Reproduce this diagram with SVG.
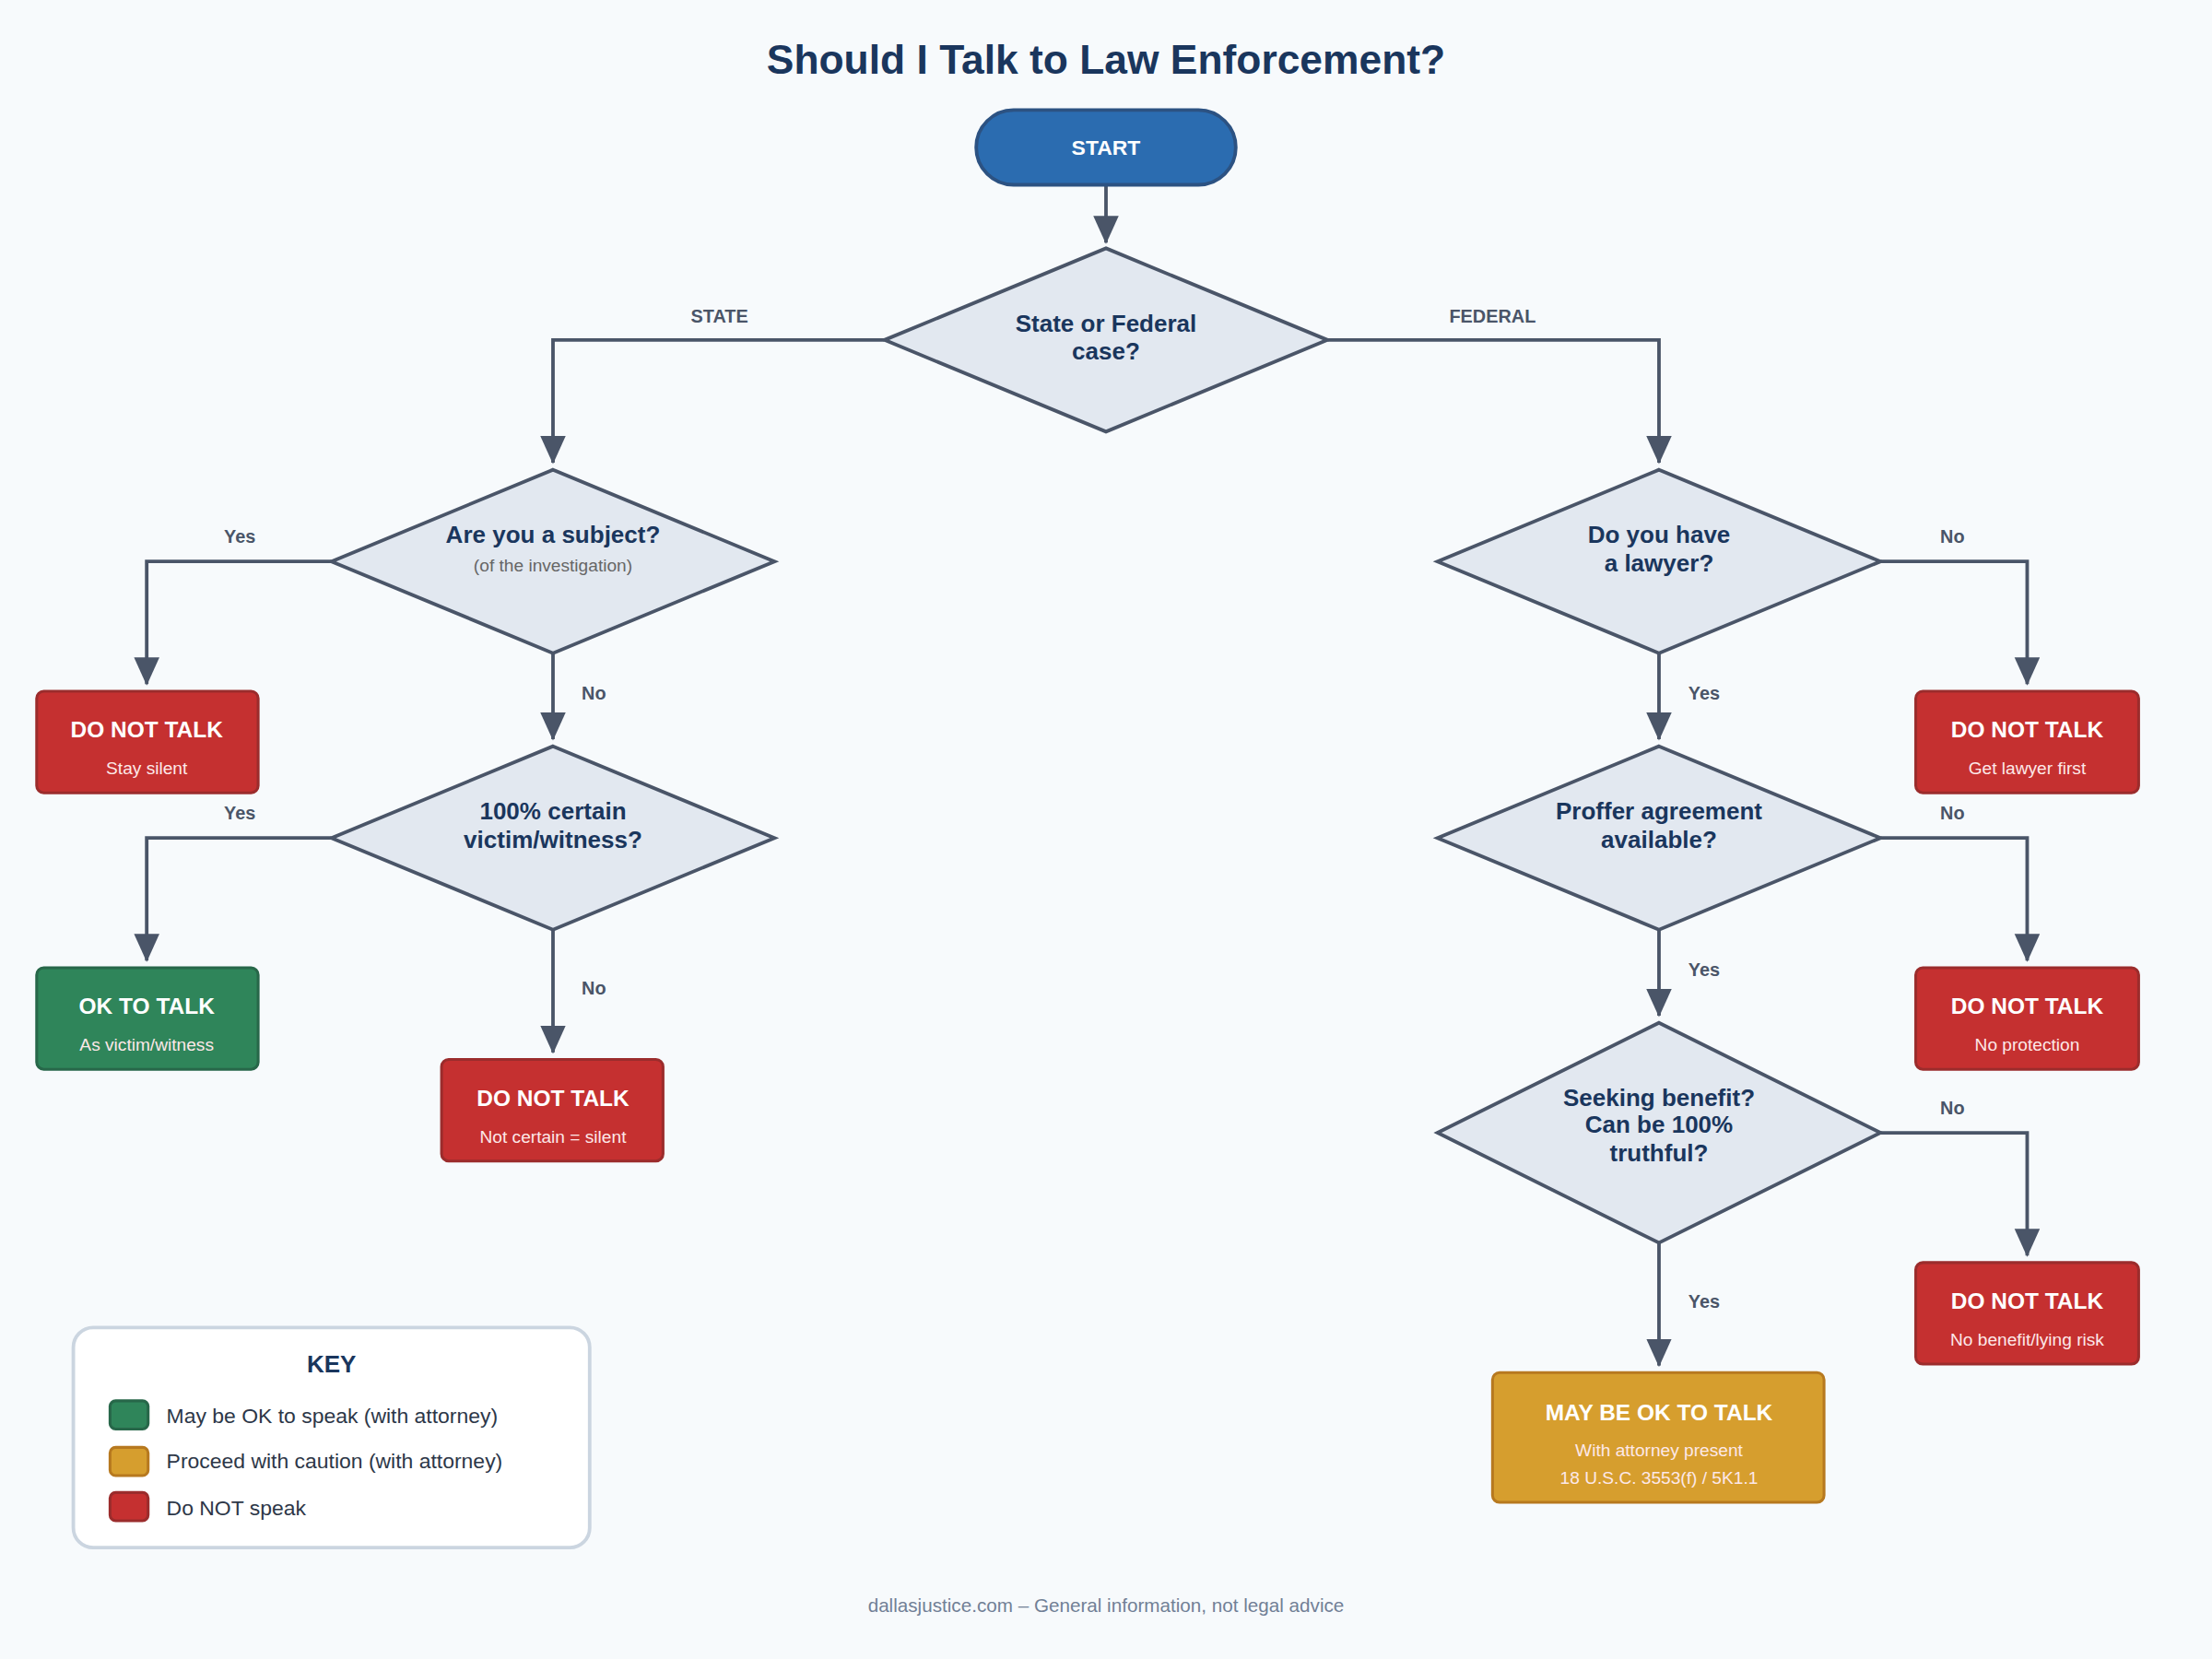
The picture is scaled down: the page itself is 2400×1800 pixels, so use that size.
<svg xmlns="http://www.w3.org/2000/svg" width="2400" height="1800" viewBox="0 0 2400 1800">
<defs>
<marker id="ah" markerUnits="userSpaceOnUse" markerWidth="20" markerHeight="26" refX="19" refY="9" orient="auto"><path d="M0,0 L20,9 L0,18 Z" fill="#4a5568"/></marker>
<style>
text{font-family:"Liberation Sans",Arial,sans-serif;text-anchor:middle}
.d{fill:#e2e8f0;stroke:#4a5568;stroke-width:2.5}
.dt{font-size:17px;font-weight:bold;fill:#1a365d}
.c{fill:none;stroke:#4a5568;stroke-width:2.5;marker-end:url(#ah)}
.lb{font-size:13px;font-weight:bold;fill:#4a5568}
.r{fill:#c53030;stroke:#9b2c2c;stroke-width:2}
.g{fill:#2f855a;stroke:#276749;stroke-width:2}
.o{fill:#d69e2e;stroke:#b7791f;stroke-width:2}
.bt{font-size:16px;font-weight:bold;fill:#fff}
.bs{font-size:12.5px;fill:#fde8e8}
.kt{font-size:15px;fill:#2d3748;text-anchor:start}
</style>
</defs>
<rect width="2400" height="1800" fill="#f7fafc"/>
<g transform="scale(1.5306)">
<text x="784" y="52" font-size="29" font-weight="bold" fill="#1a365d">Should I Talk to Law Enforcement?</text>
<g id="connectors">
<path class="c" d="M784,131 V172"/>
<path class="c" d="M627,241 H392 V328"/>
<path class="c" d="M941,241 H1176 V328"/>
<path class="c" d="M235,398 H104 V485"/>
<path class="c" d="M392,463 V524"/>
<path class="c" d="M235,594 H104 V681"/>
<path class="c" d="M392,659 V746"/>
<path class="c" d="M1333,398 H1437 V485"/>
<path class="c" d="M1176,463 V524"/>
<path class="c" d="M1333,594 H1437 V681"/>
<path class="c" d="M1176,659 V720"/>
<path class="c" d="M1333,803 H1437 V890"/>
<path class="c" d="M1176,881 V968"/>
<text class="lb" x="510" y="229">STATE</text>
<text class="lb" x="1058" y="229">FEDERAL</text>
<text class="lb" x="170" y="385">Yes</text>
<text class="lb" x="421" y="496">No</text>
<text class="lb" x="170" y="581">Yes</text>
<text class="lb" x="421" y="705">No</text>
<text class="lb" x="1384" y="385">No</text>
<text class="lb" x="1208" y="496">Yes</text>
<text class="lb" x="1384" y="581">No</text>
<text class="lb" x="1208" y="692">Yes</text>
<text class="lb" x="1384" y="790">No</text>
<text class="lb" x="1208" y="927">Yes</text>
</g>
<g id="start"><rect x="692" y="78" width="184" height="53" rx="26.5" fill="#2b6cb0" stroke="#2c5282" stroke-width="2.5"/><text x="784" y="110" font-size="15" font-weight="bold" fill="#fff">START</text></g>
<g id="q1"><polygon class="d" points="784,176 941,241 784,306 627,241"/><text class="dt" x="784" y="235">State or Federal</text><text class="dt" x="784" y="255">case?</text></g>
<g id="q2"><polygon class="d" points="392,333 549,398 392,463 235,398"/><text class="dt" x="392" y="385">Are you a subject?</text><text x="392" y="405" font-size="12.5" fill="#666">(of the investigation)</text></g>
<g id="q3"><polygon class="d" points="392,529 549,594 392,659 235,594"/><text class="dt" x="392" y="581">100% certain</text><text class="dt" x="392" y="601">victim/witness?</text></g>
<g id="q4"><polygon class="d" points="1176,333 1333,398 1176,463 1019,398"/><text class="dt" x="1176" y="385">Do you have</text><text class="dt" x="1176" y="405">a lawyer?</text></g>
<g id="q5"><polygon class="d" points="1176,529 1333,594 1176,659 1019,594"/><text class="dt" x="1176" y="581">Proffer agreement</text><text class="dt" x="1176" y="601">available?</text></g>
<g id="q6"><polygon class="d" points="1176,725 1333,803 1176,881 1019,803"/><text class="dt" x="1176" y="784">Seeking benefit?</text><text class="dt" x="1176" y="803">Can be 100%</text><text class="dt" x="1176" y="823">truthful?</text></g>
<g id="b1"><rect class="r" x="26" y="490" width="157" height="72" rx="5"/><text class="bt" x="104" y="523">DO NOT TALK</text><text class="bs" x="104" y="549">Stay silent</text></g>
<g id="b2"><rect class="g" x="26" y="686" width="157" height="72" rx="5"/><text class="bt" x="104" y="719">OK TO TALK</text><text class="bs" x="104" y="745" fill="#e6f4ea">As victim/witness</text></g>
<g id="b3"><rect class="r" x="313" y="751" width="157" height="72" rx="5"/><text class="bt" x="392" y="784">DO NOT TALK</text><text class="bs" x="392" y="810">Not certain = silent</text></g>
<g id="b4"><rect class="r" x="1358" y="490" width="158" height="72" rx="5"/><text class="bt" x="1437" y="523">DO NOT TALK</text><text class="bs" x="1437" y="549">Get lawyer first</text></g>
<g id="b5"><rect class="r" x="1358" y="686" width="158" height="72" rx="5"/><text class="bt" x="1437" y="719">DO NOT TALK</text><text class="bs" x="1437" y="745">No protection</text></g>
<g id="b6"><rect class="r" x="1358" y="895" width="158" height="72" rx="5"/><text class="bt" x="1437" y="928">DO NOT TALK</text><text class="bs" x="1437" y="954">No benefit/lying risk</text></g>
<g id="b7"><rect class="o" x="1058" y="973" width="235" height="92" rx="5"/><text class="bt" x="1176" y="1007">MAY BE OK TO TALK</text><text class="bs" x="1176" y="1032" fill="#fff8e1">With attorney present</text><text class="bs" x="1176" y="1052" fill="#fff8e1">18 U.S.C. 3553(f) / 5K1.1</text></g>
<g id="key"><rect x="52" y="941" width="366" height="156" rx="14" fill="#fff" stroke="#cbd5e0" stroke-width="2.5"/><text x="235" y="973" font-size="17" font-weight="bold" fill="#1a365d">KEY</text>
<rect class="g" x="78" y="993" width="27" height="20" rx="4"/><text class="kt" x="118" y="1009">May be OK to speak (with attorney)</text>
<rect class="o" x="78" y="1026" width="27" height="20" rx="4"/><text class="kt" x="118" y="1041">Proceed with caution (with attorney)</text>
<rect class="r" x="78" y="1058" width="27" height="20" rx="4"/><text class="kt" x="118" y="1074">Do NOT speak</text></g>
<text x="784" y="1143" font-size="13.5" fill="#718096">dallasjustice.com – General information, not legal advice</text>
</g>
</svg>
